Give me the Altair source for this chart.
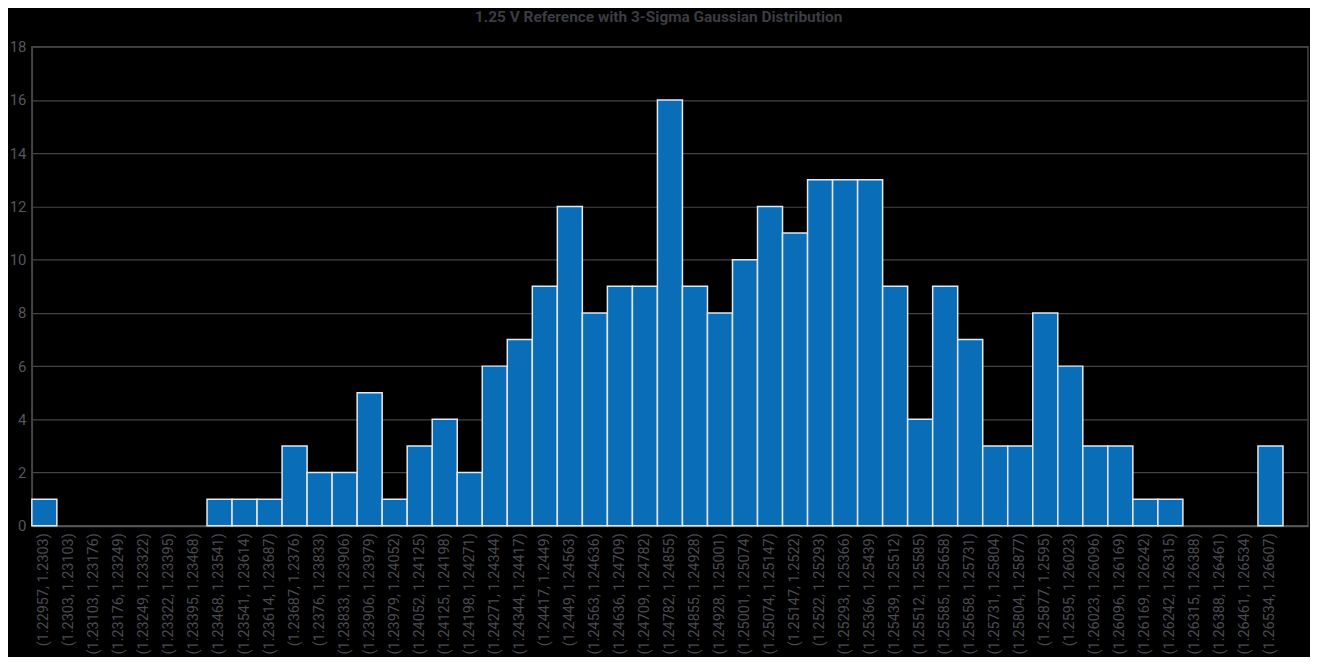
import altair as alt
import pandas as pd

edges = ["1.22957", "1.2303", "1.23103", "1.23176", "1.23249", "1.23322", "1.23395",
         "1.23468", "1.23541", "1.23614", "1.23687", "1.2376", "1.23833", "1.23906",
         "1.23979", "1.24052", "1.24125", "1.24198", "1.24271", "1.24344", "1.24417",
         "1.2449", "1.24563", "1.24636", "1.24709", "1.24782", "1.24855", "1.24928",
         "1.25001", "1.25074", "1.25147", "1.2522", "1.25293", "1.25366", "1.25439",
         "1.25512", "1.25585", "1.25658", "1.25731", "1.25804", "1.25877", "1.2595",
         "1.26023", "1.26096", "1.26169", "1.26242", "1.26315", "1.26388", "1.26461",
         "1.26534", "1.26607"]
bins = ["(" + edges[i] + ", " + edges[i + 1] + ")" for i in range(len(edges) - 1)]

counts = [1, 0, 0, 0, 0, 0, 0, 1, 1, 1,
          3, 2, 2, 5, 1, 3, 4, 2, 6, 7,
          9, 12, 8, 9, 9, 16, 9, 8, 10, 12,
          11, 13, 13, 13, 9, 4, 9, 7, 3, 3,
          8, 6, 3, 3, 1, 1, 0, 0, 0, 3]

title = "1.25 V Reference with 3-Sigma Gaussian Distribution"

df = pd.DataFrame({"bin": bins, "count": counts})
domain = bins + [" "]

chart = alt.Chart(df).transform_filter(
    alt.datum["count"] > 0
).mark_bar(
    color="#0a6db8", stroke="#e8e8e8", strokeWidth=1.5
).encode(
    x=alt.X("bin:N", sort=domain,
            scale=alt.Scale(domain=domain, paddingInner=0, paddingOuter=0),
            axis=alt.Axis(title=None, labelAngle=-90, labelColor="#4a4a52",
                          labelFont="Roboto", labelFontSize=14.5, ticks=False,
                          labelPadding=7, domainColor="#555555", domainWidth=2,
                          labelOverlap=False, labelLimit=200)),
    y=alt.Y("count:Q",
            scale=alt.Scale(domain=[0, 18], nice=False),
            axis=alt.Axis(title=None, values=list(range(0, 19, 2)), ticks=False,
                          labelColor="#55555c", labelFont="Roboto", labelFontSize=15,
                          labelPadding=6, gridColor="#444448", gridWidth=1.2,
                          domainColor="#444448", domainWidth=1.5)),
).properties(
    width=1284,
    height=482,
    title=alt.TitleParams(title, color="#3c3c44", font="Roboto", fontSize=15.5,
                          fontWeight="bold", anchor="middle", frame="bounds", offset=14),
    background="#000000",
    padding={"left": 24, "top": 37, "right": 2, "bottom": 130},
    autosize=alt.AutoSizeParams(type="none"),
).configure_view(stroke="#444448", strokeWidth=1.5)

chart.save("out.html", embed_options={"renderer": "svg", "actions": False})
